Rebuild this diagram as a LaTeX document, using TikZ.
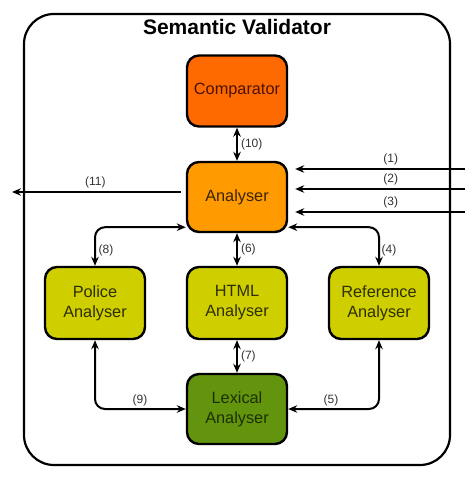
\documentclass[tikz,border=0pt]{standalone}
\usepackage{fontspec}
\setmainfont{Liberation Sans}
\usetikzlibrary{arrows.meta,calc}
\definecolor{compfill}{HTML}{FF6A00}
\definecolor{anafill}{HTML}{FF9A00}
\definecolor{yelfill}{HTML}{CFCF00}
\definecolor{lexfill}{HTML}{63940E}
\definecolor{comptext}{HTML}{4A1200}
\definecolor{anatext}{HTML}{3A2400}
\definecolor{yeltext}{HTML}{2E2E00}
\definecolor{lextext}{HTML}{1C3000}
\tikzset{
  x=1pt,y=1pt,
  box/.style={draw=black, line width=2.4pt, rounded corners=12pt, minimum width=100pt, minimum height=71pt, align=center, font=\fontsize{16.3}{20}\selectfont, inner sep=2pt},
  conn/.style={line width=2pt, {Stealth[length=9pt,width=7.5pt]}-{Stealth[length=9pt,width=7.5pt]}},
  oneway/.style={line width=2pt, -{Stealth[length=9pt,width=7.5pt]}},
  lbl/.style={font=\fontsize{12}{14}\selectfont, text=black!80, inner sep=0pt}
}
\begin{document}
\begin{tikzpicture}
\useasboundingbox (0,0) rectangle (474,-481);
\draw[line width=2.2pt, rounded corners=30pt] (24,-14) rectangle (450,-465);
\node[font=\bfseries\fontsize{21}{24}\selectfont] (title) at (237,-27) {Semantic Validator};

\node[box, fill=compfill, text=comptext] (comp) at (237,-91) {Comparator};
\node[box, fill=anafill, text=anatext, minimum height=70pt] (ana) at (237,-197) {Analyser};
\node[box, fill=yelfill, text=yeltext, minimum height=72pt] (pol) at (95,-303) {Police\\Analyser};
\node[box, fill=yelfill, text=yeltext, minimum height=72pt] (html) at (237,-303) {HTML\\Analyser};
\node[box, fill=yelfill, text=yeltext, minimum height=72pt] (ref) at (379,-303) {Reference\\Analyser};
\node[box, fill=lexfill, text=lextext, minimum height=70pt] (lex) at (237,-409) {Lexical\\Analyser};

\coordinate (in1) at (465,-169);
\coordinate (in2) at (465,-189);
\coordinate (in3) at (465,-212);
\coordinate (out11) at (12,-192);

\draw[conn] (comp) -- (ana) node[lbl, midway, right=3pt] {(10)};
\draw[oneway, shorten >=7pt] (in1) -- (in1 -| ana.east) node[lbl, pos=0.42, above=3pt] {(1)};
\draw[oneway, shorten >=7pt] (in2) -- (in2 -| ana.east) node[lbl, pos=0.42, above=3pt] {(2)};
\draw[oneway, shorten >=7pt] (in3) -- (in3 -| ana.east) node[lbl, pos=0.42, above=3pt] {(3)};
\draw[oneway, shorten <=5pt] (out11 -| ana.west) -- (out11) node[lbl, pos=0.52, above=3pt] {(11)};

\draw[conn, rounded corners=10pt] (pol.north) |- ([yshift=6pt]ana.south west);
\node[lbl] (l8) at (106,-250) {(8)};
\draw[conn, rounded corners=10pt] (ref.north) |- ([yshift=6pt]ana.south east);
\node[lbl] (l4) at (389,-250) {(4)};
\draw[conn] (ana) -- (html) node[lbl, midway, right=3pt] {(6)};
\draw[conn] (html) -- (lex) node[lbl, midway, right=3pt] {(7)};
\draw[conn, rounded corners=10pt] (pol.south) |- (lex.west);
\node[lbl] (l9) at (140,-400) {(9)};
\draw[conn, rounded corners=10pt] (ref.south) |- (lex.east);
\node[lbl] (l5) at (331,-400) {(5)};
\end{tikzpicture}
\end{document}
